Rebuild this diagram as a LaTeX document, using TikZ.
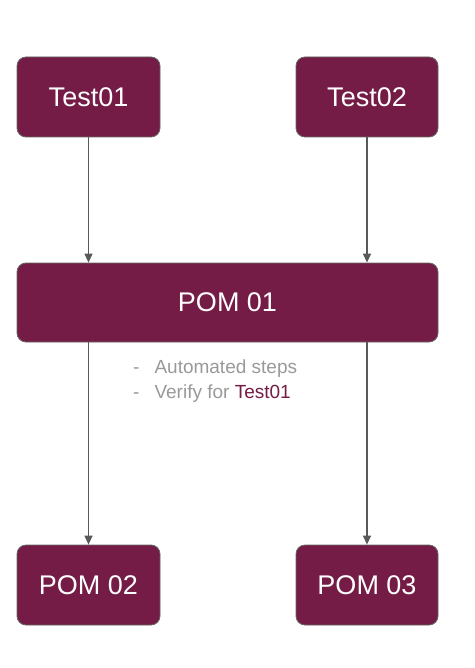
\documentclass[tikz,border=0pt]{standalone}
\usepackage{fontspec}
\setmainfont{Liberation Sans}
\usetikzlibrary{arrows.meta}
\definecolor{boxfill}{HTML}{741C45}
\definecolor{boxedge}{HTML}{666666}
\definecolor{arrowc}{HTML}{595959}
\definecolor{notec}{HTML}{999999}
\begin{document}
\begin{tikzpicture}[x=1pt,y=-1pt,
  pombox/.style={draw=boxedge, line width=0.8pt, fill=boxfill, rounded corners=9pt, text=white,
    font=\fontsize{27}{30}\selectfont, inner sep=0pt, anchor=center},
  conn/.style={draw=arrowc, line width=1.3pt, -{Triangle[length=9pt,width=8pt]}}]
\useasboundingbox (0,0) rectangle (474,668);
\node[pombox, minimum width=143pt, minimum height=80pt] (t1) at (88.5,97) {Test01};
\node[pombox, minimum width=142pt, minimum height=80pt] (t2) at (367,97) {Test02};
\node[pombox, minimum width=421pt, minimum height=79pt] (p1) at (227.5,302.5) {POM 01};
\node[pombox, minimum width=143pt, minimum height=80pt] (p2) at (88.5,585) {POM 02};
\node[pombox, minimum width=142pt, minimum height=80pt] (p3) at (367,585) {POM 03};
\draw[conn] (t1.south) -- (t1.south |- p1.north);
\draw[conn] (t2.south) -- (t2.south |- p1.north);
\draw[conn] (t1.south |- p1.south) -- (p2.north);
\draw[conn] (t2.south |- p1.south) -- (p3.north);
\node[anchor=west, text=notec, font=\fontsize{19}{25}\selectfont, align=left, inner sep=0pt] (notes) at (133,381)
  {-\hspace{15pt}Automated steps\\-\hspace{15pt}Verify for \textcolor{boxfill}{Test01}};
\end{tikzpicture}
\end{document}
